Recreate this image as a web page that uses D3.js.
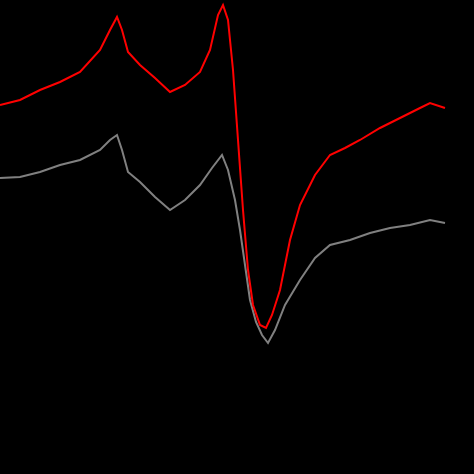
<!DOCTYPE html>
<html>
<head>
<meta charset="utf-8">
<script src="https://cdn.jsdelivr.net/npm/d3@7"></script>
<style>body{margin:0;background:#000;}</style>
</head>
<body>
<div id="chart"></div>
<script>
// values (field position, signal)
const redX = [0,20,40,60,80,100,110,117,122,128,140,155,170,185,200,210,218,223,228,233,238,243,248,253,260,266,272,280,290,300,315,330,345,360,380,400,420,430,445];
const redY = [105,100,90,82,72,50,30,17,30,52,65,78,92,85,72,50,15,5,20,70,140,210,270,305,325,328,315,290,240,205,175,155,148,140,128,118,108,103,108];
const grayX = [0,20,40,60,80,100,110,117,122,128,140,155,170,185,200,212,222,228,235,240,245,250,256,262,268,275,285,300,315,330,350,370,390,410,430,445];
const grayY = [178,177,172,165,160,150,140,135,150,172,182,197,210,200,185,168,155,170,200,230,265,300,322,335,343,330,305,280,258,245,240,233,228,225,220,223];

const width = 474, height = 474;
const svg = d3.select("#chart").append("svg")
  .attr("width", width).attr("height", height)
  .style("background", "#000");

const x = d3.scaleLinear().domain([0, 474]).range([0, width]);
const y = d3.scaleLinear().domain([0, 474]).range([0, height]);

const line = d3.line().x(d => x(d[0])).y(d => y(d[1]));

svg.append("path")
  .datum(grayX.map((v, i) => [v, grayY[i]]))
  .attr("d", line).attr("fill", "none")
  .attr("stroke", "#808080").attr("stroke-width", 2);

svg.append("path")
  .datum(redX.map((v, i) => [v, redY[i]]))
  .attr("d", line).attr("fill", "none")
  .attr("stroke", "#ff0000").attr("stroke-width", 2);
</script>
</body>
</html>
